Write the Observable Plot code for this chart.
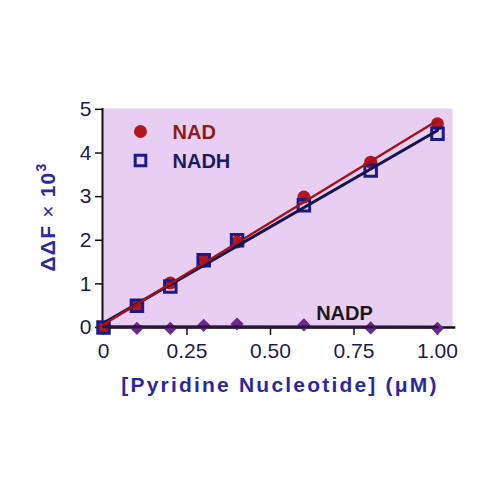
<!DOCTYPE html>
<html><head><meta charset="utf-8">
<script src="https://cdn.jsdelivr.net/npm/d3@7"></script>
<script src="https://cdn.jsdelivr.net/npm/@observablehq/plot@0.6"></script>
<style>
body{margin:0;background:#fff;}
#chart{width:500px;height:500px;}
svg{font-family:"Liberation Sans",Arial,sans-serif;}
</style></head>
<body><div id="chart"></div>
<script>
const concentration = [0, 0.1, 0.2, 0.3, 0.4, 0.6, 0.8, 1.0];
const nad  = [0, 0.5, 1.02, 1.52, 1.96, 2.99, 3.79, 4.67];
const nadh = [0, 0.5, 0.94, 1.54, 2.0, 2.8, 3.6, 4.44];
const nadp = [0, -0.02, -0.02, 0.05, 0.08, 0.06, -0.01, -0.02];
const xTicks = [0, 0.25, 0.5, 0.75, 1.0];
const xTickLabels = ["0", "0.25", "0.50", "0.75", "1.00"];
const yTicks = [0, 1, 2, 3, 4, 5];
const yTickLabels = ["0", "1", "2", "3", "4", "5"];
const seriesNames = ["NAD", "NADH", "NADP"];

const rows = (vals, name) => concentration.map((c, i) => ({x: c, y: vals[i], s: name}));
const dNAD = rows(nad, seriesNames[0]);
const dNADH = rows(nadh, seriesNames[1]);
const dNADP = rows(nadp, seriesNames[2]);

const red = "#b3161c", navy = "#1b1b86", purple = "#6b2a8c";

const plot = Plot.plot({
  width: 500, height: 500,
  marginLeft: 102, marginRight: 48, marginTop: 108, marginBottom: 173,
  style: {fontFamily: "Liberation Sans, Arial, sans-serif", background: "white", overflow: "visible"},
  x: {domain: [-0.003, 1.045], label: null},
  y: {domain: [0, 5.02], label: null},
  marks: [
    Plot.frame({fill: "#e8cef0", stroke: null}),
    Plot.axisX({ticks: xTicks, tickFormat: d => xTickLabels[xTicks.indexOf(d)], tickSize: 8, tickPadding: 8, fontSize: 21, fill: "#1c1c4c", stroke: "#111", strokeWidth: 1.5, label: null}),
    Plot.axisY({ticks: yTicks, tickFormat: d => yTickLabels[yTicks.indexOf(d)], tickSize: 7, tickPadding: 4, fontSize: 21, fill: "#1c1c4c", stroke: "#111", strokeWidth: 1.5, label: null}),
    Plot.ruleY([0], {stroke: "#111", strokeWidth: 2.5, x1: -0.003, x2: 1.055}),
    Plot.ruleX([-0.003], {stroke: "#111", strokeWidth: 2}),
    Plot.dot(dNADP, {x: "x", y: "y", symbol: "diamond2", r: 5, fill: purple, stroke: purple}),
    Plot.dot(dNAD, {x: "x", y: "y", r: 6.5, fill: red}),
    Plot.dot(dNADH, {x: "x", y: "y", symbol: "square", r: 6.5, stroke: navy, strokeWidth: 3, fill: "none"}),
    Plot.linearRegressionY(dNADP, {x: "x", y: "y", stroke: "#2a1440", strokeWidth: 3, ci: 0}),
    Plot.linearRegressionY(dNADH, {x: "x", y: "y", stroke: "#15154f", strokeWidth: 3, ci: 0}),
    Plot.linearRegressionY(dNAD, {x: "x", y: "y", stroke: "#a3121c", strokeWidth: 2.5, ci: 0}),
    // legend
    Plot.dot([seriesNames[0]], {frameAnchor: "top-left", dx: 38, dy: 23, r: 6.5, fill: red}),
    Plot.text([seriesNames[0]], {frameAnchor: "top-left", lineAnchor: "middle", dx: 70, dy: 24, text: d => d, fill: "#8e1a1a", fontSize: 20, fontWeight: "bold", textAnchor: "start"}),
    Plot.dot([seriesNames[1]], {frameAnchor: "top-left", dx: 38, dy: 52, symbol: "square", r: 6, stroke: navy, strokeWidth: 3, fill: "none"}),
    Plot.text([seriesNames[1]], {frameAnchor: "top-left", lineAnchor: "middle", dx: 70, dy: 53, text: d => d, fill: "#1b1b5e", fontSize: 20, fontWeight: "bold", textAnchor: "start"}),
    Plot.text([seriesNames[2]], {frameAnchor: "bottom-left", lineAnchor: "middle", dx: 242, dy: -14, text: d => d, fill: "#1a1a1a", fontSize: 20, fontWeight: "bold", textAnchor: "middle"})
  ]
});
document.getElementById("chart").appendChild(plot);

const svg = d3.select(plot);
// x label
svg.append("text")
  .attr("x", 280).attr("y", 392)
  .attr("text-anchor", "middle")
  .attr("font-size", 21).attr("font-weight", "bold")
  .attr("letter-spacing", 2.2)
  .attr("fill", "#2a2aa0")
  .text("[Pyridine Nucleotide] (μM)");
// y label
const yl = svg.append("text")
  .attr("transform", "translate(55,217) rotate(-90)")
  .attr("text-anchor", "middle")
  .attr("font-size", 21).attr("font-weight", "bold")
  .attr("letter-spacing", 1.2)
  .attr("fill", "#2a2aa0");
yl.append("tspan").text("ΔΔF ");
yl.append("tspan").attr("font-weight", "normal").text("×");
yl.append("tspan").text(" 10");
yl.append("tspan").attr("font-size", 14).attr("dy", -9).text("3");
</script>
</body></html>
